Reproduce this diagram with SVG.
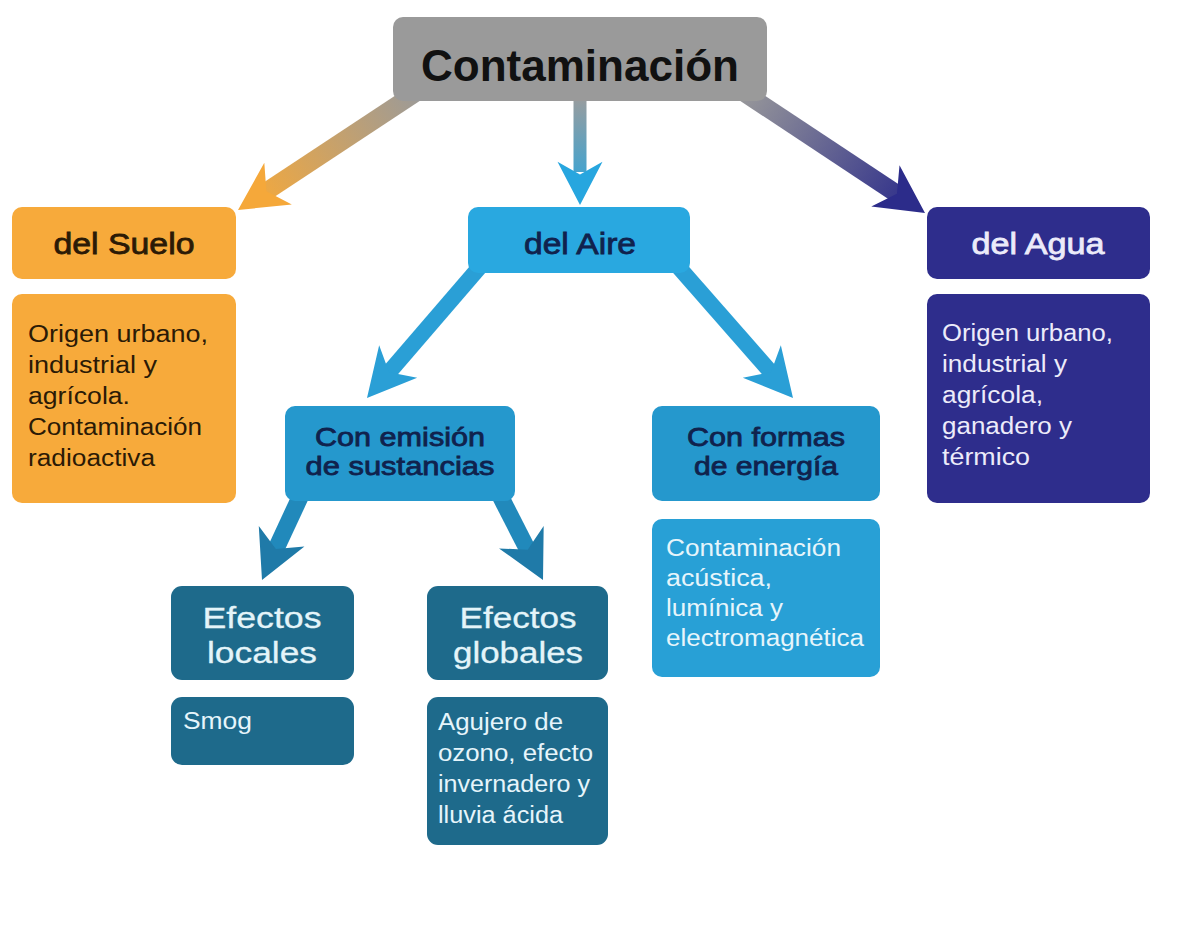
<svg xmlns="http://www.w3.org/2000/svg" width="1200" height="927" viewBox="0 0 1200 927">
<defs>
<style>
.t{font-family:"Liberation Sans",Arial,Helvetica,sans-serif;}
.title{font-size:45px;font-weight:bold;fill:#111;}
.hd{font-size:30px;stroke-width:0.8px;}
.sub{font-size:26px;stroke-width:0.8px;}
.ef{font-size:30px;fill:#e4f4f9;stroke:#e4f4f9;stroke-width:0.3px;}
.body{font-size:23px;}
.dark{fill:#2b1a06;}
.navy{fill:#10224d;stroke:#10224d;}
.light{fill:#e6f5fb;}
.white{fill:#ecebfa;}
</style>
<linearGradient id="gL" gradientUnits="userSpaceOnUse" x1="420" y1="90" x2="250" y2="205"><stop offset="0" stop-color="#9a9a9a"/><stop offset="1" stop-color="#f6a93a"/></linearGradient>
<linearGradient id="gC" gradientUnits="userSpaceOnUse" x1="580" y1="95" x2="580" y2="200"><stop offset="0" stop-color="#9c9c9c"/><stop offset="1" stop-color="#27a6df"/></linearGradient>
<linearGradient id="gR" gradientUnits="userSpaceOnUse" x1="740" y1="90" x2="915" y2="210"><stop offset="0" stop-color="#9a9a9a"/><stop offset="1" stop-color="#2c2c8a"/></linearGradient>
<path id="head" d="M0,0 L-48,-25 L-34,0 L-48,25 Z"/>
</defs>

<g id="connectors">
  <line x1="420" y1="90" x2="264.7" y2="192.4" stroke="url(#gL)" stroke-width="18"/>
  <use href="#head" transform="translate(238,210) rotate(146.6)" fill="#f5a83a"/>
  <line x1="580" y1="90" x2="580" y2="172" stroke="url(#gC)" stroke-width="13"/>
  <use href="#head" transform="translate(580,205) rotate(90) scale(0.9)" fill="#27a6df"/>
  <line x1="740" y1="90" x2="898.6" y2="194.9" stroke="url(#gR)" stroke-width="18"/>
  <use href="#head" transform="translate(925,213) rotate(34.4)" fill="#2c2c8a"/>

  <line x1="490" y1="255" x2="387.8" y2="373.7" stroke="#2a9fd6" stroke-width="16"/>
  <use href="#head" transform="translate(367,398) rotate(130.5)" fill="#2a9fd6"/>
  <line x1="668" y1="255" x2="772.2" y2="373.7" stroke="#2a9fd6" stroke-width="16"/>
  <use href="#head" transform="translate(793,398) rotate(49.5)" fill="#2a9fd6"/>

  <line x1="308" y1="480" x2="275" y2="551" stroke="#2189bb" stroke-width="17"/>
  <use href="#head" transform="translate(262,580) rotate(114.1)" fill="#1f7aa8"/>
  <line x1="492" y1="480" x2="528.6" y2="551.5" stroke="#2189bb" stroke-width="17"/>
  <use href="#head" transform="translate(543,580) rotate(63.2)" fill="#1f7aa8"/>
</g>

<g id="contaminacion">
  <rect x="393" y="17" width="374" height="84" rx="10" fill="#9a9a9a"/>
  <text class="t title" x="580" y="81" text-anchor="middle" textLength="318" lengthAdjust="spacingAndGlyphs">Contaminación</text>
</g>

<g id="suelo">
  <rect x="12" y="207" width="224" height="72" rx="10" fill="#f7aa3b"/>
  <text class="t hd dark" x="124" y="254" text-anchor="middle" stroke="#2b1a06" textLength="141" lengthAdjust="spacingAndGlyphs">del Suelo</text>
</g>
<g id="suelo-desc">
  <rect x="12" y="294" width="224" height="209" rx="10" fill="#f7aa3b"/>
  <text class="t body dark" x="28" y="342" textLength="180" lengthAdjust="spacingAndGlyphs">Origen urbano,</text>
  <text class="t body dark" x="28" y="373" textLength="129" lengthAdjust="spacingAndGlyphs">industrial y</text>
  <text class="t body dark" x="28" y="404" textLength="102" lengthAdjust="spacingAndGlyphs">agrícola.</text>
  <text class="t body dark" x="28" y="435" textLength="174" lengthAdjust="spacingAndGlyphs">Contaminación</text>
  <text class="t body dark" x="28" y="466" textLength="127" lengthAdjust="spacingAndGlyphs">radioactiva</text>
</g>

<g id="aire">
  <rect x="468" y="207" width="222" height="66" rx="10" fill="#29a8e0"/>
  <text class="t hd navy" x="580" y="254" text-anchor="middle" textLength="112" lengthAdjust="spacingAndGlyphs">del Aire</text>
</g>

<g id="agua">
  <rect x="927" y="207" width="223" height="72" rx="10" fill="#2e2d8c"/>
  <text class="t hd white" x="1038" y="254" text-anchor="middle" stroke="#ecebfa" textLength="133" lengthAdjust="spacingAndGlyphs">del Agua</text>
</g>
<g id="agua-desc">
  <rect x="927" y="294" width="223" height="209" rx="10" fill="#2e2d8c"/>
  <text class="t body white" x="942" y="341" textLength="171" lengthAdjust="spacingAndGlyphs">Origen urbano,</text>
  <text class="t body white" x="942" y="372" textLength="125" lengthAdjust="spacingAndGlyphs">industrial y</text>
  <text class="t body white" x="942" y="403" textLength="101" lengthAdjust="spacingAndGlyphs">agrícola,</text>
  <text class="t body white" x="942" y="434" textLength="130" lengthAdjust="spacingAndGlyphs">ganadero y</text>
  <text class="t body white" x="942" y="465" textLength="88" lengthAdjust="spacingAndGlyphs">térmico</text>
</g>

<g id="emision">
  <rect x="285" y="406" width="230" height="95" rx="10" fill="#2598cd"/>
  <text class="t sub navy" x="400" y="446" text-anchor="middle" textLength="170" lengthAdjust="spacingAndGlyphs">Con emisión</text>
  <text class="t sub navy" x="400" y="475" text-anchor="middle" textLength="189" lengthAdjust="spacingAndGlyphs">de sustancias</text>
</g>

<g id="formas">
  <rect x="652" y="406" width="228" height="95" rx="10" fill="#2598cd"/>
  <text class="t sub navy" x="766" y="446" text-anchor="middle" textLength="158" lengthAdjust="spacingAndGlyphs">Con formas</text>
  <text class="t sub navy" x="766" y="475" text-anchor="middle" textLength="144" lengthAdjust="spacingAndGlyphs">de energía</text>
</g>
<g id="formas-desc">
  <rect x="652" y="519" width="228" height="158" rx="10" fill="#28a0d6"/>
  <text class="t body light" x="666" y="556" textLength="175" lengthAdjust="spacingAndGlyphs">Contaminación</text>
  <text class="t body light" x="666" y="586" textLength="106" lengthAdjust="spacingAndGlyphs">acústica,</text>
  <text class="t body light" x="666" y="616" textLength="117" lengthAdjust="spacingAndGlyphs">lumínica y</text>
  <text class="t body light" x="666" y="646" textLength="198" lengthAdjust="spacingAndGlyphs">electromagnética</text>
</g>

<g id="locales">
  <rect x="171" y="586" width="183" height="94" rx="11" fill="#1e6a8b"/>
  <text class="t ef" x="262" y="628" text-anchor="middle" textLength="119" lengthAdjust="spacingAndGlyphs">Efectos</text>
  <text class="t ef" x="262" y="663" text-anchor="middle" textLength="110" lengthAdjust="spacingAndGlyphs">locales</text>
</g>
<g id="smog">
  <rect x="171" y="697" width="183" height="68" rx="11" fill="#1e6a8b"/>
  <text class="t body light" x="183" y="729" textLength="69" lengthAdjust="spacingAndGlyphs">Smog</text>
</g>

<g id="globales">
  <rect x="427" y="586" width="181" height="94" rx="11" fill="#1e6a8b"/>
  <text class="t ef" x="518" y="628" text-anchor="middle" textLength="117" lengthAdjust="spacingAndGlyphs">Efectos</text>
  <text class="t ef" x="518" y="663" text-anchor="middle" textLength="130" lengthAdjust="spacingAndGlyphs">globales</text>
</g>
<g id="globales-desc">
  <rect x="427" y="697" width="181" height="148" rx="11" fill="#1e6a8b"/>
  <text class="t body light" x="438" y="730" textLength="125" lengthAdjust="spacingAndGlyphs">Agujero de</text>
  <text class="t body light" x="438" y="761" textLength="155" lengthAdjust="spacingAndGlyphs">ozono, efecto</text>
  <text class="t body light" x="438" y="792" textLength="152" lengthAdjust="spacingAndGlyphs">invernadero y</text>
  <text class="t body light" x="438" y="823" textLength="125" lengthAdjust="spacingAndGlyphs">lluvia ácida</text>
</g>
</svg>
